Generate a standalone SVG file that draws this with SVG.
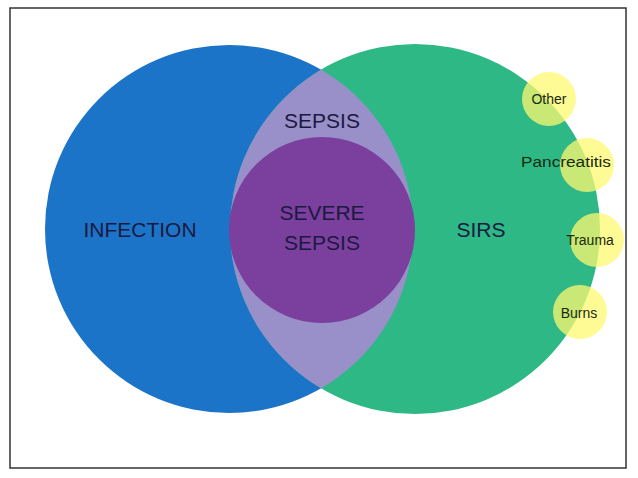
<svg xmlns="http://www.w3.org/2000/svg" width="638" height="478" viewBox="0 0 638 478">
<style>
text{font-family:"Liberation Sans",Arial,sans-serif;text-anchor:middle;fill:#1a1a40}
.big{font-size:21px}
.sm{font-size:14px;fill:#1a2a10}
.y{fill:#fdf870;fill-opacity:0.75}
</style>
<defs><clipPath id="bc"><circle cx="229" cy="229" r="184"/></clipPath></defs>
<rect x="0" y="0" width="638" height="478" fill="#fff"/>
<rect x="10" y="8" width="616" height="460" fill="none" stroke="#333" stroke-width="1.5"/>
<g id="infection"><circle cx="229" cy="229" r="184" fill="#1c74c8"/><text class="big" x="140" y="237">INFECTION</text></g>
<g id="sirs"><circle cx="415" cy="229" r="185" fill="#2db885"/><text class="big" x="481" y="237">SIRS</text></g>
<g id="sepsis"><circle cx="415" cy="229" r="185" fill="#998fc9" clip-path="url(#bc)"/><text class="big" x="322" y="128">SEPSIS</text></g>
<g id="severe"><circle cx="322" cy="230" r="93" fill="#7b3f9e"/><text class="big" x="322" y="220">SEVERE</text><text class="big" x="322" y="250">SEPSIS</text></g>
<g id="other"><circle class="y" cx="549" cy="99" r="27"/><text class="sm" x="549" y="104">Other</text></g>
<g id="pancreatitis"><circle class="y" cx="587" cy="165" r="27"/><text class="sm" x="566" y="167" textLength="90" lengthAdjust="spacingAndGlyphs">Pancreatitis</text></g>
<g id="trauma"><circle class="y" cx="597" cy="240" r="27"/><text class="sm" x="590" y="245">Trauma</text></g>
<g id="burns"><circle class="y" cx="580" cy="312" r="27"/><text class="sm" x="579" y="318">Burns</text></g>
<g id="connectors"/>
</svg>
